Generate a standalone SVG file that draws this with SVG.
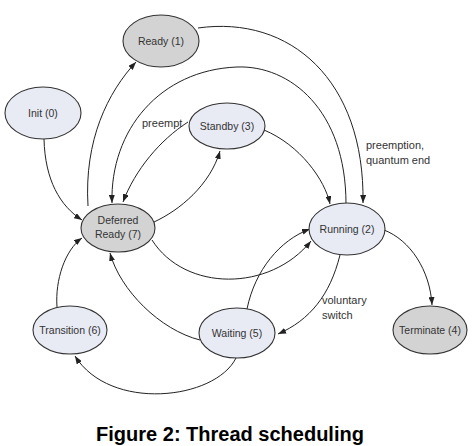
<svg xmlns="http://www.w3.org/2000/svg" width="474" height="446" viewBox="0 0 474 446">
<defs>
<marker id="arr" markerWidth="8" markerHeight="6" refX="8" refY="3" orient="auto" markerUnits="userSpaceOnUse">
<path d="M0,0 L8,3 L0,6 z" fill="#222"/>
</marker>
<style>
.n ellipse{stroke:#333;stroke-width:1.1}
.g{fill:#d3d3d3}
.l{fill:#e8eaf4}
.t{font-family:"Liberation Sans",Arial,sans-serif;font-size:10.5px;fill:#333;text-anchor:middle}
.e path{fill:none;stroke:#222;stroke-width:1;marker-end:url(#arr)}
.e path.nm{marker-end:none}
.lab{font-family:"Liberation Sans",Arial,sans-serif;font-size:11px;fill:#333}
.cap{font-family:"Liberation Sans",Arial,sans-serif;font-size:20px;font-weight:bold;fill:#000;text-anchor:middle}
</style>
</defs>
<rect width="474" height="446" fill="#fff"/>
<g class="e" id="connectors">
<path d="M44 139 C45 180 60 206 82 220"/>
<path d="M88 206 C84 140 108 92 136 62"/>
<path d="M198 28 C290 15 365 80 363 203"/>
<path class="nm" d="M346 204 C346 110 290 65 237 67"/>
<path d="M237 67 C160 70 110 130 112 203"/>
<path d="M188 122 C160 140 135 170 123 202"/>
<path d="M154 222 C180 210 210 185 220 151"/>
<path d="M264 130 C300 145 325 180 330 204"/>
<path d="M152 240 C185 292 270 292 311 241"/>
<path d="M247 309 C255 270 280 240 310 229"/>
<path d="M340 255 C330 295 310 320 278 334"/>
<path d="M200 340 C160 330 120 290 110 253"/>
<path d="M236 358 C215 400 110 412 75 356"/>
<path d="M57 307 C55 280 65 250 82 238"/>
<path d="M384 230 C410 240 430 270 432 305"/>
<text class="lab" x="142" y="127">preempt</text>
<text class="lab" x="366" y="149">preemption,</text>
<text class="lab" x="366" y="164">quantum end</text>
<text class="lab" x="322" y="304">voluntary</text>
<text class="lab" x="322" y="319">switch</text>
</g>
<g class="n" id="ready"><ellipse class="g" cx="161" cy="41" rx="38" ry="26"/><text class="t" x="161" y="45">Ready (1)</text></g>
<g class="n" id="init"><ellipse class="l" cx="43" cy="113" rx="38" ry="26"/><text class="t" x="43" y="117">Init (0)</text></g>
<g class="n" id="standby"><ellipse class="l" cx="227" cy="126" rx="38" ry="23"/><text class="t" x="227" y="130">Standby (3)</text></g>
<g class="n" id="deferred"><ellipse class="g" cx="118" cy="228" rx="37" ry="24"/><text class="t" x="118" y="224">Deferred</text><text class="t" x="118" y="238">Ready (7)</text></g>
<g class="n" id="running"><ellipse class="l" cx="347" cy="229" rx="38" ry="26"/><text class="t" x="347" y="233">Running (2)</text></g>
<g class="n" id="transition"><ellipse class="l" cx="70" cy="330" rx="37" ry="24"/><text class="t" x="70" y="334">Transition (6)</text></g>
<g class="n" id="waiting"><ellipse class="l" cx="237" cy="333" rx="38" ry="25"/><text class="t" x="237" y="337">Waiting (5)</text></g>
<g class="n" id="terminate"><ellipse class="g" cx="430" cy="330" rx="37" ry="24"/><text class="t" x="430" y="334">Terminate (4)</text></g>
<text class="cap" x="230" y="441">Figure 2: Thread scheduling</text>
</svg>
